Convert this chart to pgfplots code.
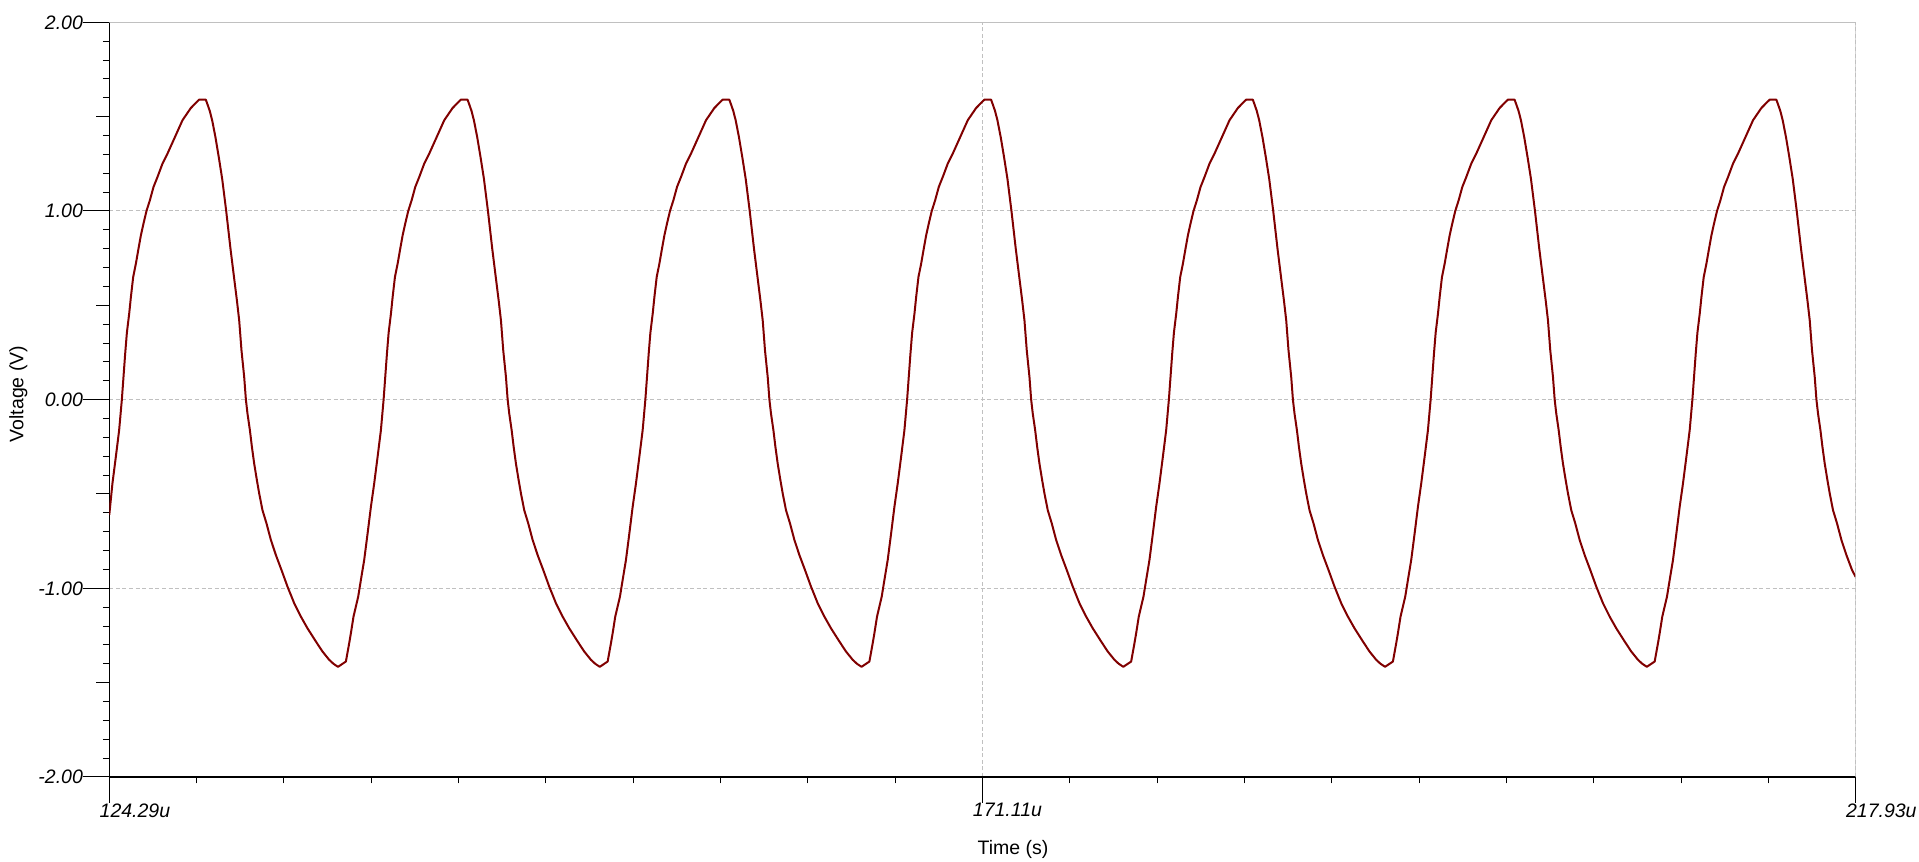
\documentclass[border=0pt]{standalone}
\usepackage{fontspec}
\setmainfont{Liberation Sans}
\usepackage{pgfplots}
\pgfplotsset{compat=1.18}
\definecolor{wave}{HTML}{800000}
\definecolor{gridgray}{HTML}{C0C0C0}
\pgfplotstableread{
t v
124.290 -0.610
124.459 -0.444
124.641 -0.303
124.818 -0.162
124.963 0.000
125.051 0.120
125.142 0.244
125.233 0.355
125.357 0.456
125.448 0.544
125.571 0.650
125.716 0.721
125.855 0.800
125.984 0.871
126.123 0.933
126.284 1.000
126.467 1.057
126.660 1.127
126.874 1.180
127.142 1.251
127.410 1.304
127.770 1.383
128.215 1.481
128.657 1.545
128.952 1.575
129.110 1.590
129.464 1.590
129.555 1.565
129.678 1.530
129.807 1.480
129.984 1.390
130.161 1.285
130.343 1.170
130.558 1.000
130.788 0.800
130.976 0.650
131.132 0.526
131.255 0.420
131.378 0.261
131.523 0.120
131.614 0.000
131.700 -0.074
131.829 -0.162
131.936 -0.250
132.059 -0.339
132.204 -0.427
132.327 -0.497
132.504 -0.586
132.719 -0.656
132.955 -0.744
133.223 -0.824
133.523 -0.903
133.845 -0.991
134.204 -1.079
134.563 -1.150
134.917 -1.212
135.368 -1.282
135.721 -1.335
136.081 -1.379
136.311 -1.400
136.553 -1.416
136.794 -1.400
136.976 -1.388
137.153 -1.291
137.244 -1.238
137.384 -1.150
137.636 -1.044
137.780 -0.956
137.957 -0.850
138.140 -0.709
138.317 -0.568
138.494 -0.444
138.676 -0.303
138.853 -0.162
138.998 0.000
139.086 0.120
139.177 0.244
139.268 0.355
139.392 0.456
139.483 0.544
139.606 0.650
139.751 0.721
139.890 0.800
140.019 0.871
140.158 0.933
140.319 1.000
140.502 1.057
140.695 1.127
140.909 1.180
141.177 1.251
141.445 1.304
141.805 1.383
142.250 1.481
142.692 1.545
142.987 1.575
143.145 1.590
143.499 1.590
143.590 1.565
143.713 1.530
143.842 1.480
144.019 1.390
144.196 1.285
144.378 1.170
144.593 1.000
144.823 0.800
145.011 0.650
145.167 0.526
145.290 0.420
145.413 0.261
145.558 0.120
145.649 0.000
145.735 -0.074
145.864 -0.162
145.971 -0.250
146.094 -0.339
146.239 -0.427
146.362 -0.497
146.539 -0.586
146.754 -0.656
146.990 -0.744
147.258 -0.824
147.558 -0.903
147.880 -0.991
148.239 -1.079
148.598 -1.150
148.952 -1.212
149.403 -1.282
149.756 -1.335
150.116 -1.379
150.346 -1.400
150.588 -1.416
150.829 -1.400
151.011 -1.388
151.188 -1.291
151.279 -1.238
151.419 -1.150
151.671 -1.044
151.815 -0.956
151.992 -0.850
152.175 -0.709
152.352 -0.568
152.529 -0.444
152.711 -0.303
152.888 -0.162
153.033 0.000
153.121 0.120
153.212 0.244
153.303 0.355
153.427 0.456
153.518 0.544
153.641 0.650
153.786 0.721
153.925 0.800
154.054 0.871
154.193 0.933
154.354 1.000
154.537 1.057
154.730 1.127
154.944 1.180
155.212 1.251
155.480 1.304
155.840 1.383
156.285 1.481
156.727 1.545
157.022 1.575
157.180 1.590
157.534 1.590
157.625 1.565
157.748 1.530
157.877 1.480
158.054 1.390
158.231 1.285
158.413 1.170
158.628 1.000
158.858 0.800
159.046 0.650
159.202 0.526
159.325 0.420
159.448 0.261
159.593 0.120
159.684 0.000
159.770 -0.074
159.899 -0.162
160.006 -0.250
160.129 -0.339
160.274 -0.427
160.397 -0.497
160.574 -0.586
160.789 -0.656
161.025 -0.744
161.293 -0.824
161.593 -0.903
161.915 -0.991
162.274 -1.079
162.633 -1.150
162.987 -1.212
163.438 -1.282
163.791 -1.335
164.151 -1.379
164.381 -1.400
164.623 -1.416
164.864 -1.400
165.046 -1.388
165.223 -1.291
165.314 -1.238
165.454 -1.150
165.706 -1.044
165.850 -0.956
166.027 -0.850
166.210 -0.709
166.387 -0.568
166.564 -0.444
166.746 -0.303
166.923 -0.162
167.068 0.000
167.156 0.120
167.247 0.244
167.338 0.355
167.462 0.456
167.553 0.544
167.676 0.650
167.821 0.721
167.960 0.800
168.089 0.871
168.228 0.933
168.389 1.000
168.572 1.057
168.765 1.127
168.979 1.180
169.247 1.251
169.515 1.304
169.875 1.383
170.320 1.481
170.762 1.545
171.057 1.575
171.215 1.590
171.569 1.590
171.660 1.565
171.783 1.530
171.912 1.480
172.089 1.390
172.266 1.285
172.448 1.170
172.663 1.000
172.893 0.800
173.081 0.650
173.237 0.526
173.360 0.420
173.483 0.261
173.628 0.120
173.719 0.000
173.805 -0.074
173.934 -0.162
174.041 -0.250
174.164 -0.339
174.309 -0.427
174.432 -0.497
174.609 -0.586
174.824 -0.656
175.060 -0.744
175.328 -0.824
175.628 -0.903
175.950 -0.991
176.309 -1.079
176.668 -1.150
177.022 -1.212
177.473 -1.282
177.826 -1.335
178.186 -1.379
178.416 -1.400
178.658 -1.416
178.899 -1.400
179.081 -1.388
179.258 -1.291
179.349 -1.238
179.489 -1.150
179.741 -1.044
179.885 -0.956
180.062 -0.850
180.245 -0.709
180.422 -0.568
180.599 -0.444
180.781 -0.303
180.958 -0.162
181.103 0.000
181.191 0.120
181.282 0.244
181.373 0.355
181.497 0.456
181.588 0.544
181.711 0.650
181.856 0.721
181.995 0.800
182.124 0.871
182.263 0.933
182.424 1.000
182.607 1.057
182.800 1.127
183.014 1.180
183.282 1.251
183.550 1.304
183.910 1.383
184.355 1.481
184.797 1.545
185.092 1.575
185.250 1.590
185.604 1.590
185.695 1.565
185.818 1.530
185.947 1.480
186.124 1.390
186.301 1.285
186.483 1.170
186.698 1.000
186.928 0.800
187.116 0.650
187.272 0.526
187.395 0.420
187.518 0.261
187.663 0.120
187.754 0.000
187.840 -0.074
187.969 -0.162
188.076 -0.250
188.199 -0.339
188.344 -0.427
188.467 -0.497
188.644 -0.586
188.859 -0.656
189.095 -0.744
189.363 -0.824
189.663 -0.903
189.985 -0.991
190.344 -1.079
190.703 -1.150
191.057 -1.212
191.508 -1.282
191.861 -1.335
192.221 -1.379
192.451 -1.400
192.693 -1.416
192.934 -1.400
193.116 -1.388
193.293 -1.291
193.384 -1.238
193.524 -1.150
193.776 -1.044
193.920 -0.956
194.097 -0.850
194.280 -0.709
194.457 -0.568
194.634 -0.444
194.816 -0.303
194.993 -0.162
195.138 0.000
195.226 0.120
195.317 0.244
195.408 0.355
195.532 0.456
195.623 0.544
195.746 0.650
195.891 0.721
196.030 0.800
196.159 0.871
196.298 0.933
196.459 1.000
196.642 1.057
196.835 1.127
197.049 1.180
197.317 1.251
197.585 1.304
197.945 1.383
198.390 1.481
198.832 1.545
199.127 1.575
199.285 1.590
199.639 1.590
199.730 1.565
199.853 1.530
199.982 1.480
200.159 1.390
200.336 1.285
200.518 1.170
200.733 1.000
200.963 0.800
201.151 0.650
201.307 0.526
201.430 0.420
201.553 0.261
201.698 0.120
201.789 0.000
201.875 -0.074
202.004 -0.162
202.111 -0.250
202.234 -0.339
202.379 -0.427
202.502 -0.497
202.679 -0.586
202.894 -0.656
203.130 -0.744
203.398 -0.824
203.698 -0.903
204.020 -0.991
204.379 -1.079
204.738 -1.150
205.092 -1.212
205.543 -1.282
205.896 -1.335
206.256 -1.379
206.486 -1.400
206.728 -1.416
206.969 -1.400
207.151 -1.388
207.328 -1.291
207.419 -1.238
207.559 -1.150
207.811 -1.044
207.955 -0.956
208.132 -0.850
208.315 -0.709
208.492 -0.568
208.669 -0.444
208.851 -0.303
209.028 -0.162
209.173 0.000
209.261 0.120
209.352 0.244
209.443 0.355
209.567 0.456
209.658 0.544
209.781 0.650
209.926 0.721
210.065 0.800
210.194 0.871
210.333 0.933
210.494 1.000
210.677 1.057
210.870 1.127
211.084 1.180
211.352 1.251
211.620 1.304
211.980 1.383
212.425 1.481
212.867 1.545
213.162 1.575
213.320 1.590
213.674 1.590
213.765 1.565
213.888 1.530
214.017 1.480
214.194 1.390
214.371 1.285
214.553 1.170
214.768 1.000
214.998 0.800
215.186 0.650
215.342 0.526
215.465 0.420
215.588 0.261
215.733 0.120
215.824 0.000
215.910 -0.074
216.039 -0.162
216.146 -0.250
216.269 -0.339
216.414 -0.427
216.537 -0.497
216.714 -0.586
216.929 -0.656
217.165 -0.744
217.433 -0.824
217.733 -0.903
217.930 -0.940
}\wavedata
\begin{document}
\begin{tikzpicture}
\path[use as bounding box] (-54.65pt,-42.5pt) rectangle (904.85pt,388.5pt);
\begin{axis}[
  at={(0pt,0pt)}, anchor=south west,
  scale only axis, width=873.2pt, height=377.35pt,
  xmin=124.29, xmax=217.93, ymin=-2, ymax=2,
  axis x line*=bottom, axis y line*=left,
  axis line style={-, black, line width=0.6pt},
  tick align=outside,
  xtick={124.29,171.11,217.93},
  xticklabels={124.29u,171.11u,217.93u},
  minor x tick num=9,
  ytick={-2,-1,0,1,2},
  yticklabels={-2.00,-1.00,0.00,1.00,2.00},
  minor y tick num=9,
  extra y ticks={-1.5,-0.5,0.5,1.5},
  extra y tick labels={},
  extra y tick style={ymajorgrids=false, major tick length=6.6pt},
  major tick length=13pt, minor tick length=3.2pt,
  every tick/.style={black, line width=0.5pt},
  xmajorgrids, ymajorgrids,
  grid style={gridgray, line width=0.5pt, dash pattern=on 2pt off 1.3pt},
  ticklabel style={font=\fontsize{9.75}{11}\selectfont\itshape, inner sep=0pt},
  yticklabel style={anchor=east},
  xticklabel style={anchor=north west, xshift=-5pt},
  xlabel={Time (s)}, ylabel={Voltage (V)},
  label style={font=\fontsize{9.75}{11}\selectfont, inner sep=0pt},
  xlabel style={at={(axis description cs:0.5175,0)}, anchor=base, yshift=-39pt},
  ylabel style={at={(axis description cs:0,0.5075)}, anchor=base, yshift=43pt},
]
\addplot[wave, line width=1pt, line join=round] table[x=t, y=v] {\wavedata};
\draw[gridgray, line width=0.5pt] (rel axis cs:0,1) -- (rel axis cs:1,1) -- (rel axis cs:1,0);
\end{axis}
\end{tikzpicture}
\end{document}
